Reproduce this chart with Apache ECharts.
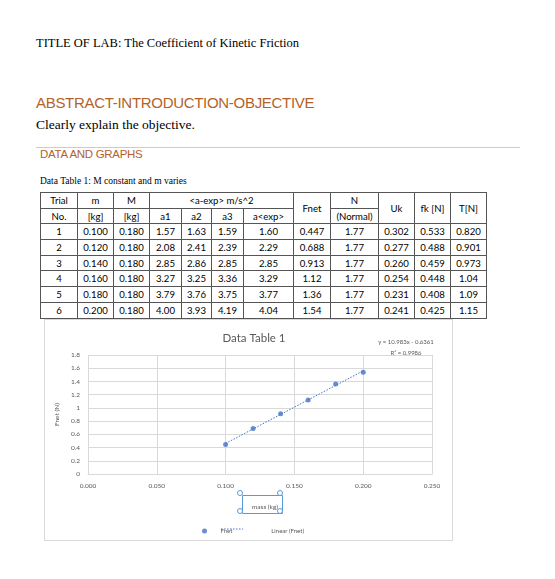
<!DOCTYPE html>
<html>
<head>
<meta charset="utf-8">
<title>Lab</title>
<script src="https://cdn.jsdelivr.net/npm/echarts@6/dist/echarts.min.js"></script>
<style>
  body { margin: 0; width: 555px; height: 579px; position: relative; background: #fff; font-family: "Liberation Serif", serif; }
  .abs { position: absolute; white-space: nowrap; }
  .head { font-family: "Liberation Sans", sans-serif; color: #b4622a; letter-spacing: -0.3px; }
  table { position: absolute; left: 40px; top: 192px; border-collapse: collapse; font-family: Lato, "Liberation Sans", sans-serif; font-size: 9.6px; table-layout: fixed; }
  td { border: 1px solid #555; text-align: center; padding: 0; height: 14.7px; line-height: 13px; }
  #main { position: absolute; left: 44px; top: 319px; width: 409px; height: 222px; border: 1px solid #d9d9d9; box-sizing: border-box; }
</style>
</head>
<body>
<div class="abs" style="left:36px; top:36px; font-size:12.5px;">TITLE OF LAB: The Coefficient of Kinetic Friction</div>
<div class="abs head" style="left:36px; top:94px; font-size:15px;">ABSTRACT-INTRODUCTION-OBJECTIVE</div>
<div class="abs" style="left:36px; top:117px; font-size:13.5px;">Clearly explain the objective.</div>
<div class="abs" style="left:36px; top:147px; width:484px; border-top:1px solid #ccc;"></div>
<div class="abs head" style="left:40px; top:148px; font-size:11.5px;">DATA AND GRAPHS</div>
<div class="abs" style="left:40px; top:176px; font-size:9.5px;">Data Table 1: M constant and m varies</div>
<table id="tbl"></table>
<div id="main"></div>
<script type="text/javascript">
  // 表格数据
  var trials = ['1', '2', '3', '4', '5', '6'];
  var mass = [0.100, 0.120, 0.140, 0.160, 0.180, 0.200];
  var bigM = ['0.180', '0.180', '0.180', '0.180', '0.180', '0.180'];
  var a1 = ['1.57', '2.08', '2.85', '3.27', '3.79', '4.00'];
  var a2 = ['1.63', '2.41', '2.86', '3.25', '3.76', '3.93'];
  var a3 = ['1.59', '2.39', '2.85', '3.36', '3.75', '4.19'];
  var aExp = ['1.60', '2.29', '2.85', '3.29', '3.77', '4.04'];
  var fnet = [0.447, 0.688, 0.913, 1.12, 1.36, 1.54];
  var fnetText = ['0.447', '0.688', '0.913', '1.12', '1.36', '1.54'];
  var normal = ['1.77', '1.77', '1.77', '1.77', '1.77', '1.77'];
  var uk = ['0.302', '0.277', '0.260', '0.254', '0.231', '0.241'];
  var fk = ['0.533', '0.488', '0.459', '0.448', '0.408', '0.425'];
  var tension = ['0.820', '0.901', '0.973', '1.04', '1.09', '1.15'];
  var trendSlope = 10.983;
  var trendIntercept = -0.6361;
  var xTicks = ['0.000', '0.050', '0.100', '0.150', '0.200', '0.250'];

  var widths = [37, 36, 36, 32, 30, 32, 50, 37, 48, 36, 36, 36];
  var html = '<colgroup>';
  widths.forEach(function (w) { html += '<col style="width:' + w + 'px">'; });
  html += '</colgroup>';
  html += '<tr><td>Trial</td><td>m</td><td>M</td><td colspan="4">&lt;a-exp&gt; m/s^2</td>' +
    '<td rowspan="2">Fnet</td><td>N</td><td rowspan="2">Uk</td><td rowspan="2">fk [N]</td><td rowspan="2">T[N]</td></tr>';
  html += '<tr><td>No.</td><td>[kg]</td><td>[kg]</td><td>a1</td><td>a2</td><td>a3</td><td>a&lt;exp&gt;</td><td>(Normal)</td></tr>';
  for (var i = 0; i < trials.length; i++) {
    html += '<tr><td>' + [trials[i], mass[i].toFixed(3), bigM[i], a1[i], a2[i], a3[i], aExp[i],
      fnetText[i], normal[i], uk[i], fk[i], tension[i]].join('</td><td>') + '</td></tr>';
  }
  document.getElementById('tbl').innerHTML = html;

  var myChart = echarts.init(document.getElementById('main'));
  var points = mass.map(function (m, i) { return [m, fnet[i]]; });
  var trend = [mass[0], mass[mass.length - 1]].map(function (m) { return [m, trendSlope * m + trendIntercept]; });
  var blue = '#4472C4';
  var font = 'Lato, "Liberation Sans", sans-serif';

  var option = {
    animation: false,
    textStyle: { fontFamily: font },
    title: [{
      text: 'Data Table 1', left: 204, top: 7, textAlign: 'center',
      textStyle: { fontSize: 11.5, fontWeight: 'normal', color: '#595959', fontFamily: font }
    }, {
      text: 'y = 10.983x - 0.6361\nR² = 0.9986', left: 356, top: 12, textAlign: 'center',
      textStyle: { fontSize: 6, fontWeight: 'normal', color: '#595959', lineHeight: 11, fontFamily: font }
    }, {
      text: 'mass (kg)', left: 215, top: 178, textAlign: 'center',
      textStyle: { fontSize: 6.5, fontWeight: 'normal', color: '#595959', fontFamily: font }
    }],
    legend: {
      top: 203, left: 152, itemWidth: 22, itemHeight: 5, itemGap: 12,
      textStyle: { fontSize: 6, color: '#595959' },
      data: [{ name: 'Fnet', icon: 'circle' }, { name: 'Linear (Fnet)', icon: 'none' }]
    },
    grid: { left: 43, right: 20, top: 35, bottom: 66 },
    xAxis: {
      type: 'value', min: 0, max: 0.25, interval: 0.05,
      axisLine: { lineStyle: { color: '#d9d9d9' } },
      axisTick: { show: false },
      splitLine: { lineStyle: { color: '#d9d9d9' } },
      axisLabel: { fontSize: 6.5, color: '#595959', margin: 8,
        formatter: function (v) { return xTicks[Math.round(v / 0.05)]; } }
    },
    yAxis: {
      type: 'value', min: 0, max: 1.8, interval: 0.2,
      name: 'Fnet (N)', nameLocation: 'middle', nameGap: 26,
      nameTextStyle: { fontSize: 6.5, color: '#595959' },
      axisLine: { show: false }, axisTick: { show: false },
      splitLine: { lineStyle: { color: '#d9d9d9' } },
      axisLabel: { fontSize: 6.5, color: '#595959',
        formatter: function (v) { return String(Math.round(v * 10) / 10); } }
    },
    graphic: [{
      type: 'rect', left: 195, top: 173, shape: { width: 40, height: 18 },
      style: { fill: 'none', stroke: '#5b9bd5', lineWidth: 1 }
    }, {
      type: 'line', shape: { x1: 176, y1: 209, x2: 198, y2: 209 },
      style: { stroke: blue, lineWidth: 1, lineDash: [1.5, 1.5] }
    }].concat([[195, 173], [235, 173], [195, 191], [235, 191]].map(function (p) {
      return { type: 'circle', x: p[0], y: p[1], shape: { r: 2.5 }, style: { fill: '#fff', stroke: '#5b9bd5', lineWidth: 1 } };
    })),
    series: [{
      name: 'Linear (Fnet)', type: 'line', data: trend, symbol: 'none',
      lineStyle: { color: blue, width: 1, type: [1.5, 1.5] }, itemStyle: { color: blue }
    }, {
      name: 'Fnet', type: 'scatter', data: points, symbolSize: 5, itemStyle: { color: blue }
    }]
  };
  myChart.setOption(option);
</script>
</body>
</html>
